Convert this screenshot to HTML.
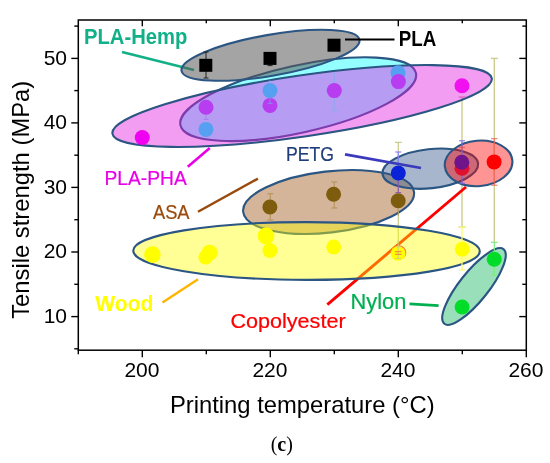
<!DOCTYPE html>
<html><head><meta charset="utf-8"><title>Tensile strength vs printing temperature (c)</title>
<style>html,body{margin:0;padding:0;background:#fff}svg{display:block}text{font-family:"Liberation Sans",Arial,sans-serif}.ser{font-family:"Liberation Serif","Times New Roman",serif}</style></head><body>
<svg width="550" height="463" viewBox="0 0 550 463">
<rect width="550" height="463" fill="#fff"/>
<line x1="398.3" y1="142.4" x2="398.3" y2="252.0" stroke="#cdcd90" stroke-width="1.3" stroke-linecap="butt"/>
<line x1="394.8" y1="142.4" x2="401.8" y2="142.4" stroke="#cdcd90" stroke-width="1.3" stroke-linecap="butt"/>
<line x1="462.0" y1="97.0" x2="462.0" y2="227.0" stroke="#cdcd90" stroke-width="1.4" stroke-linecap="butt"/>
<line x1="458.5" y1="227.0" x2="465.5" y2="227.0" stroke="#cdcd90" stroke-width="1.4" stroke-linecap="butt"/>
<line x1="494.3" y1="58.4" x2="494.3" y2="242.0" stroke="#cdcd90" stroke-width="1.4" stroke-linecap="butt"/>
<line x1="490.8" y1="58.4" x2="497.8" y2="58.4" stroke="#cdcd90" stroke-width="1.4" stroke-linecap="butt"/>
<line x1="466.0" y1="187.0" x2="327.3" y2="304.6" stroke="#ff0000" stroke-width="2.9" stroke-linecap="butt"/>
<line x1="122.0" y1="52.0" x2="194.0" y2="70.0" stroke="#12b088" stroke-width="2.6" stroke-linecap="butt"/>
<ellipse cx="298.2" cy="99.2" rx="120.6" ry="33.5" transform="rotate(-12.5 298.2 99.2)" fill="rgba(0,255,255,0.42)" stroke="#2b5582" stroke-width="2.1"/>
<ellipse cx="270.5" cy="55.3" rx="90.3" ry="20.5" transform="rotate(-9.9 270.5 55.3)" fill="rgba(90,90,90,0.55)" stroke="#2b5582" stroke-width="2.1"/>
<ellipse cx="302.1" cy="106.0" rx="191.7" ry="30.5" transform="rotate(-8.3 302.1 106.0)" fill="rgba(225,30,225,0.44)" stroke="#2b5582" stroke-width="2.1"/>
<ellipse cx="328.6" cy="202" rx="86" ry="30.6" transform="rotate(-6.6 328.6 202)" fill="rgba(160,90,30,0.45)" stroke="#2b5582" stroke-width="2.1"/>
<ellipse cx="306.5" cy="251.0" rx="173.3" ry="28.9" transform="rotate(0.1 306.5 251.0)" fill="rgba(255,255,0,0.41)" stroke="#2b5582" stroke-width="2.1"/>
<ellipse cx="430.3" cy="168.7" rx="48.1" ry="19.5" transform="rotate(-6.25 430.3 168.7)" fill="rgba(50,85,140,0.43)" stroke="#2b5582" stroke-width="2.1"/>
<ellipse cx="478.6" cy="163.4" rx="33.9" ry="22.7" transform="rotate(-5 478.6 163.4)" fill="rgba(255,0,0,0.42)" stroke="#2b5582" stroke-width="2.1"/>
<ellipse cx="474" cy="286.5" rx="47.6" ry="14.5" transform="rotate(-51.5 474 286.5)" fill="rgba(0,176,80,0.4)" stroke="#2b5582" stroke-width="2.1"/>
<line x1="206.0" y1="52.0" x2="206.0" y2="78.0" stroke="#222" stroke-width="1" stroke-linecap="butt"/>
<line x1="203.5" y1="52.0" x2="208.5" y2="52.0" stroke="#222" stroke-width="1" stroke-linecap="butt"/>
<line x1="203.5" y1="78.0" x2="208.5" y2="78.0" stroke="#222" stroke-width="1" stroke-linecap="butt"/>
<line x1="270.0" y1="60.0" x2="270.0" y2="65.6" stroke="#222" stroke-width="1" stroke-linecap="butt"/>
<line x1="267.5" y1="65.6" x2="272.5" y2="65.6" stroke="#222" stroke-width="1" stroke-linecap="butt"/>
<line x1="334.3" y1="72.0" x2="334.3" y2="110.7" stroke="#96a6f0" stroke-width="1.3" stroke-linecap="butt"/>
<line x1="331.3" y1="110.7" x2="337.3" y2="110.7" stroke="#96a6f0" stroke-width="1.3" stroke-linecap="butt"/>
<line x1="206.0" y1="113.0" x2="206.0" y2="119.4" stroke="#a884ee" stroke-width="1.1" stroke-linecap="butt"/>
<line x1="203.5" y1="119.4" x2="208.5" y2="119.4" stroke="#a884ee" stroke-width="1.1" stroke-linecap="butt"/>
<line x1="270.0" y1="80.5" x2="270.0" y2="83.0" stroke="#8fb4f2" stroke-width="1.1" stroke-linecap="butt"/>
<line x1="270.0" y1="111.0" x2="270.0" y2="113.2" stroke="#c58cf0" stroke-width="1.1" stroke-linecap="butt"/>
<line x1="270.3" y1="193.7" x2="270.3" y2="220.0" stroke="#b89660" stroke-width="1.2" stroke-linecap="butt"/>
<line x1="267.3" y1="193.7" x2="273.3" y2="193.7" stroke="#b89660" stroke-width="1.2" stroke-linecap="butt"/>
<line x1="267.3" y1="220.0" x2="273.3" y2="220.0" stroke="#b89660" stroke-width="1.2" stroke-linecap="butt"/>
<line x1="334.3" y1="182.0" x2="334.3" y2="208.0" stroke="#b89660" stroke-width="1.2" stroke-linecap="butt"/>
<line x1="331.3" y1="182.0" x2="337.3" y2="182.0" stroke="#b89660" stroke-width="1.2" stroke-linecap="butt"/>
<line x1="331.3" y1="208.0" x2="337.3" y2="208.0" stroke="#b89660" stroke-width="1.2" stroke-linecap="butt"/>
<line x1="398.3" y1="180.0" x2="398.3" y2="192.6" stroke="#8a5ab4" stroke-width="1.1" stroke-linecap="butt"/>
<line x1="395.5" y1="192.6" x2="401.1" y2="192.6" stroke="#8a5ab4" stroke-width="1.1" stroke-linecap="butt"/>
<line x1="398.3" y1="207.0" x2="398.3" y2="216.0" stroke="#b9a070" stroke-width="1.0" stroke-linecap="butt"/>
<line x1="398.3" y1="152.0" x2="398.3" y2="168.0" stroke="#8a84f0" stroke-width="1.2" stroke-linecap="butt"/>
<line x1="395.3" y1="152.0" x2="401.3" y2="152.0" stroke="#8a84f0" stroke-width="1.2" stroke-linecap="butt"/>
<line x1="462.0" y1="140.8" x2="462.0" y2="183.2" stroke="#7a6af0" stroke-width="1.0" stroke-linecap="butt"/>
<line x1="459.0" y1="140.8" x2="465.0" y2="140.8" stroke="#7a6af0" stroke-width="1.0" stroke-linecap="butt"/>
<line x1="459.0" y1="183.2" x2="465.0" y2="183.2" stroke="#7a6af0" stroke-width="1.0" stroke-linecap="butt"/>
<line x1="462.0" y1="147.3" x2="462.0" y2="150.0" stroke="#f05050" stroke-width="1.0" stroke-linecap="butt"/>
<line x1="459.0" y1="147.3" x2="465.0" y2="147.3" stroke="#f05050" stroke-width="1.0" stroke-linecap="butt"/>
<line x1="494.3" y1="138.7" x2="494.3" y2="185.2" stroke="#ee6a5a" stroke-width="1.0" stroke-linecap="butt"/>
<line x1="491.1" y1="138.7" x2="497.5" y2="138.7" stroke="#ee6a5a" stroke-width="1.0" stroke-linecap="butt"/>
<line x1="491.1" y1="185.2" x2="497.5" y2="185.2" stroke="#ee6a5a" stroke-width="1.0" stroke-linecap="butt"/>
<line x1="462.0" y1="227.0" x2="462.0" y2="270.0" stroke="#fafa6e" stroke-width="1.3" stroke-linecap="butt"/>
<line x1="459.0" y1="227.0" x2="465.0" y2="227.0" stroke="#fafa6e" stroke-width="1.3" stroke-linecap="butt"/>
<line x1="459.0" y1="270.0" x2="465.0" y2="270.0" stroke="#fafa6e" stroke-width="1.3" stroke-linecap="butt"/>
<line x1="494.3" y1="242.3" x2="494.3" y2="275.2" stroke="#78ee80" stroke-width="1.2" stroke-linecap="butt"/>
<line x1="491.0" y1="242.3" x2="497.6" y2="242.3" stroke="#78ee80" stroke-width="1.2" stroke-linecap="butt"/>
<line x1="491.0" y1="275.2" x2="497.6" y2="275.2" stroke="#78ee80" stroke-width="1.2" stroke-linecap="butt"/>
<line x1="462.0" y1="97.0" x2="462.0" y2="97.0" stroke="#e060c0" stroke-width="1.2" stroke-linecap="butt"/>
<line x1="458.5" y1="97.0" x2="465.5" y2="97.0" stroke="#e060c0" stroke-width="1.2" stroke-linecap="butt"/>
<rect x="199.3" y="58.8" width="13" height="13" fill="#000"/>
<rect x="263.5" y="51.9" width="13" height="13" fill="#000"/>
<rect x="327.5" y="38.7" width="13" height="13" fill="#000"/>
<circle cx="206.0" cy="129.4" r="7.5" fill="#55a0f0"/>
<circle cx="270.0" cy="90.6" r="7.5" fill="#55a0f0"/>
<circle cx="398.0" cy="72.8" r="7.5" fill="#55a0f0"/>
<circle cx="142.3" cy="137.6" r="7.5" fill="#f000f0"/>
<circle cx="206.0" cy="107.2" r="7.5" fill="#b83cf0"/>
<circle cx="270.0" cy="105.4" r="7.5" fill="#b83cf0"/>
<circle cx="334.3" cy="90.6" r="7.5" fill="#b83cf0"/>
<circle cx="398.4" cy="81.6" r="7.5" fill="#b83cf0"/>
<circle cx="462.0" cy="85.7" r="7.5" fill="#f010f0"/>
<circle cx="269.9" cy="207.0" r="7.5" fill="#7e5c0e"/>
<circle cx="333.6" cy="194.2" r="7.5" fill="#7e5c0e"/>
<circle cx="398.2" cy="200.8" r="7.5" fill="#7e5c0e"/>
<circle cx="152.4" cy="254.6" r="8.3" fill="#ffff00"/>
<circle cx="209.6" cy="252.7" r="8.0" fill="#ffff00"/>
<circle cx="205.6" cy="257.4" r="7.2" fill="#ffff00"/>
<circle cx="266.0" cy="236.0" r="8.4" fill="#ffff00"/>
<circle cx="270.0" cy="250.5" r="7.5" fill="#ffff00"/>
<circle cx="333.7" cy="246.9" r="7.4" fill="#ffff00"/>
<circle cx="462.2" cy="249.2" r="7.4" fill="#ffff00"/>
<circle cx="399.0" cy="252.6" r="7.3" fill="#ff7a40"/>
<circle cx="398.1" cy="253.5" r="7.3" fill="#ffff00"/>
<line x1="398.2" y1="240.0" x2="398.2" y2="258.6" stroke="#d4d070" stroke-width="1.1" stroke-linecap="butt"/>
<line x1="395.2" y1="246.8" x2="401.2" y2="246.8" stroke="#d4d070" stroke-width="1" stroke-linecap="butt"/>
<line x1="395.2" y1="258.6" x2="401.2" y2="258.6" stroke="#d4d070" stroke-width="1" stroke-linecap="butt"/>
<line x1="395.0" y1="251.7" x2="401.6" y2="251.7" stroke="#f07a50" stroke-width="1" stroke-linecap="butt"/>
<line x1="395.0" y1="254.3" x2="401.6" y2="254.3" stroke="#f07a50" stroke-width="1" stroke-linecap="butt"/>
<circle cx="462.0" cy="168.3" r="7.5" fill="#e01030"/>
<circle cx="494.1" cy="161.9" r="7.5" fill="#ff0000"/>
<circle cx="398.3" cy="173.0" r="7.5" fill="#0a22d8"/>
<circle cx="461.8" cy="162.3" r="7.5" fill="#70148c"/>
<circle cx="462.1" cy="307.0" r="7.5" fill="#00dc28"/>
<circle cx="494.2" cy="259.2" r="7.5" fill="#00dc28"/>
<line x1="270.0" y1="97.0" x2="270.0" y2="103.5" stroke="#8f7cf0" stroke-width="1.1" stroke-linecap="butt"/>
<line x1="267.5" y1="103.5" x2="272.5" y2="103.5" stroke="#8f7cf0" stroke-width="1.1" stroke-linecap="butt"/>
<line x1="345.0" y1="39.5" x2="394.5" y2="39.5" stroke="#000" stroke-width="2.1" stroke-linecap="butt"/>
<line x1="209.8" y1="148.0" x2="187.8" y2="166.7" stroke="#e800e8" stroke-width="2.6" stroke-linecap="butt"/>
<line x1="345.0" y1="154.4" x2="421.0" y2="168.0" stroke="#3a3abc" stroke-width="2.6" stroke-linecap="butt"/>
<line x1="257.9" y1="178.6" x2="198.0" y2="211.8" stroke="#994a0c" stroke-width="2.4" stroke-linecap="butt"/>
<line x1="198.0" y1="279.3" x2="162.5" y2="302.6" stroke="#ffb400" stroke-width="2.4" stroke-linecap="butt"/>
<line x1="409.5" y1="303.9" x2="438.6" y2="305.6" stroke="#00b050" stroke-width="2.6" stroke-linecap="butt"/>
<rect x="78.3" y="20.0" width="447.99999999999994" height="330.2" fill="none" stroke="#000" stroke-width="1.5"/>
<line x1="78.3" y1="350.2" x2="78.3" y2="354.2" stroke="#000" stroke-width="1.4" stroke-linecap="butt"/>
<line x1="142.3" y1="350.2" x2="142.3" y2="357.2" stroke="#000" stroke-width="1.4" stroke-linecap="butt"/>
<line x1="142.3" y1="20.0" x2="142.3" y2="26.2" stroke="#000" stroke-width="1.4" stroke-linecap="butt"/>
<line x1="206.3" y1="350.2" x2="206.3" y2="354.2" stroke="#000" stroke-width="1.4" stroke-linecap="butt"/>
<line x1="206.3" y1="20.0" x2="206.3" y2="23.2" stroke="#000" stroke-width="1.4" stroke-linecap="butt"/>
<line x1="270.3" y1="350.2" x2="270.3" y2="357.2" stroke="#000" stroke-width="1.4" stroke-linecap="butt"/>
<line x1="270.3" y1="20.0" x2="270.3" y2="26.2" stroke="#000" stroke-width="1.4" stroke-linecap="butt"/>
<line x1="334.3" y1="350.2" x2="334.3" y2="354.2" stroke="#000" stroke-width="1.4" stroke-linecap="butt"/>
<line x1="334.3" y1="20.0" x2="334.3" y2="23.2" stroke="#000" stroke-width="1.4" stroke-linecap="butt"/>
<line x1="398.3" y1="350.2" x2="398.3" y2="357.2" stroke="#000" stroke-width="1.4" stroke-linecap="butt"/>
<line x1="398.3" y1="20.0" x2="398.3" y2="26.2" stroke="#000" stroke-width="1.4" stroke-linecap="butt"/>
<line x1="462.3" y1="350.2" x2="462.3" y2="354.2" stroke="#000" stroke-width="1.4" stroke-linecap="butt"/>
<line x1="462.3" y1="20.0" x2="462.3" y2="23.2" stroke="#000" stroke-width="1.4" stroke-linecap="butt"/>
<line x1="526.3" y1="350.2" x2="526.3" y2="357.2" stroke="#000" stroke-width="1.4" stroke-linecap="butt"/>
<line x1="78.3" y1="348.8" x2="74.3" y2="348.8" stroke="#000" stroke-width="1.4" stroke-linecap="butt"/>
<line x1="78.3" y1="316.6" x2="71.3" y2="316.6" stroke="#000" stroke-width="1.4" stroke-linecap="butt"/>
<line x1="526.3" y1="316.6" x2="519.3" y2="316.6" stroke="#000" stroke-width="1.4" stroke-linecap="butt"/>
<line x1="78.3" y1="284.3" x2="74.3" y2="284.3" stroke="#000" stroke-width="1.4" stroke-linecap="butt"/>
<line x1="526.3" y1="284.3" x2="522.3" y2="284.3" stroke="#000" stroke-width="1.4" stroke-linecap="butt"/>
<line x1="78.3" y1="252.0" x2="71.3" y2="252.0" stroke="#000" stroke-width="1.4" stroke-linecap="butt"/>
<line x1="526.3" y1="252.0" x2="519.3" y2="252.0" stroke="#000" stroke-width="1.4" stroke-linecap="butt"/>
<line x1="78.3" y1="219.7" x2="74.3" y2="219.7" stroke="#000" stroke-width="1.4" stroke-linecap="butt"/>
<line x1="526.3" y1="219.7" x2="522.3" y2="219.7" stroke="#000" stroke-width="1.4" stroke-linecap="butt"/>
<line x1="78.3" y1="187.4" x2="71.3" y2="187.4" stroke="#000" stroke-width="1.4" stroke-linecap="butt"/>
<line x1="526.3" y1="187.4" x2="519.3" y2="187.4" stroke="#000" stroke-width="1.4" stroke-linecap="butt"/>
<line x1="78.3" y1="155.2" x2="74.3" y2="155.2" stroke="#000" stroke-width="1.4" stroke-linecap="butt"/>
<line x1="526.3" y1="155.2" x2="522.3" y2="155.2" stroke="#000" stroke-width="1.4" stroke-linecap="butt"/>
<line x1="78.3" y1="122.9" x2="71.3" y2="122.9" stroke="#000" stroke-width="1.4" stroke-linecap="butt"/>
<line x1="526.3" y1="122.9" x2="519.3" y2="122.9" stroke="#000" stroke-width="1.4" stroke-linecap="butt"/>
<line x1="78.3" y1="90.6" x2="74.3" y2="90.6" stroke="#000" stroke-width="1.4" stroke-linecap="butt"/>
<line x1="526.3" y1="90.6" x2="522.3" y2="90.6" stroke="#000" stroke-width="1.4" stroke-linecap="butt"/>
<line x1="78.3" y1="58.4" x2="71.3" y2="58.4" stroke="#000" stroke-width="1.4" stroke-linecap="butt"/>
<line x1="526.3" y1="58.4" x2="519.3" y2="58.4" stroke="#000" stroke-width="1.4" stroke-linecap="butt"/>
<line x1="78.3" y1="26.1" x2="74.3" y2="26.1" stroke="#000" stroke-width="1.4" stroke-linecap="butt"/>
<line x1="526.3" y1="26.1" x2="522.3" y2="26.1" stroke="#000" stroke-width="1.4" stroke-linecap="butt"/>
<text x="141.9" y="376.7" font-size="21" text-anchor="middle" fill="#000">200</text>
<text x="269.9" y="376.7" font-size="21" text-anchor="middle" fill="#000">220</text>
<text x="397.9" y="376.7" font-size="21" text-anchor="middle" fill="#000">240</text>
<text x="525.9" y="376.7" font-size="21" text-anchor="middle" fill="#000">260</text>
<text x="67" y="322.8" font-size="21" text-anchor="end" fill="#000">10</text>
<text x="67" y="258.2" font-size="21" text-anchor="end" fill="#000">20</text>
<text x="67" y="193.6" font-size="21" text-anchor="end" fill="#000">30</text>
<text x="67" y="129.1" font-size="21" text-anchor="end" fill="#000">40</text>
<text x="67" y="64.6" font-size="21" text-anchor="end" fill="#000">50</text>
<text x="302.3" y="412.7" font-size="23.8" text-anchor="middle" fill="#000">Printing temperature (°C)</text>
<text transform="translate(28.9 199.8) rotate(-90)" font-size="23.8" text-anchor="middle" fill="#000">Tensile strength (MPa)</text>
<text class="ser" x="281.8" y="450.8" font-size="20" text-anchor="middle" fill="#000">(<tspan font-weight="bold">c</tspan>)</text>
<text x="84" y="44.4" font-size="22" textLength="103.3" lengthAdjust="spacingAndGlyphs" fill="#12b088" font-weight="bold">PLA-Hemp</text>
<text x="398.8" y="46.3" font-size="21.6" textLength="37.5" lengthAdjust="spacingAndGlyphs" fill="#000" font-weight="bold">PLA</text>
<text x="104.5" y="184.5" font-size="21" textLength="82.2" lengthAdjust="spacingAndGlyphs" fill="#e800e8" stroke="#e800e8" stroke-width="0.22">PLA-PHA</text>
<text x="286" y="161.3" font-size="21" textLength="48" lengthAdjust="spacingAndGlyphs" fill="#1f3d7a" stroke="#1f3d7a" stroke-width="0.22">PETG</text>
<text x="153" y="219.2" font-size="21" textLength="36.5" lengthAdjust="spacingAndGlyphs" fill="#994a0c" stroke="#994a0c" stroke-width="0.22">ASA</text>
<text x="95.3" y="310.8" font-size="22" textLength="58.2" lengthAdjust="spacingAndGlyphs" fill="#ffff00" font-weight="bold">Wood</text>
<text x="230.4" y="328.3" font-size="21" textLength="115.2" lengthAdjust="spacingAndGlyphs" fill="#ff0000" stroke="#ff0000" stroke-width="0.22">Copolyester</text>
<text x="350.6" y="309.3" font-size="21.3" textLength="55.8" lengthAdjust="spacingAndGlyphs" fill="#00b050" stroke="#00b050" stroke-width="0.22">Nylon</text>
</svg></body></html>
